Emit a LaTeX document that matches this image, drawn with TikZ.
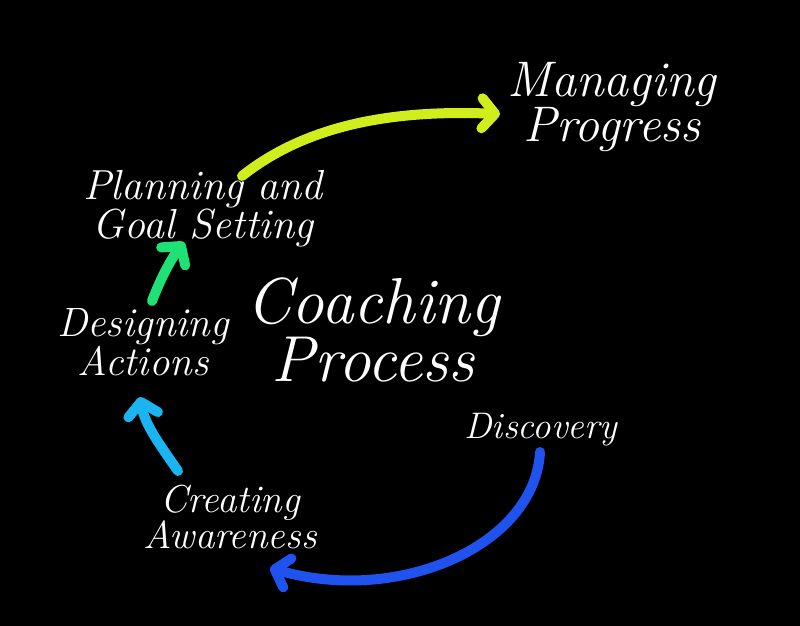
\documentclass[tikz,border=0pt]{standalone}
\usetikzlibrary{arrows.meta}
\definecolor{cyg}{RGB}{208,238,28}
\definecolor{cgr}{RGB}{30,226,118}
\definecolor{clb}{RGB}{26,180,240}
\definecolor{cbl}{RGB}{32,82,240}
\tikzset{
  lbl/.style={text=white,font=\itshape,align=center,inner sep=0pt},
  arr/.style={line width=10pt,line cap=round,-{Straight Barb[round,length=13pt,width=30pt,line width=10pt]}}
}
\begin{document}
\begin{tikzpicture}[x=1pt,y=-1pt]
\useasboundingbox[fill=black] (0,0) rectangle (800,626);
\node[lbl,font=\itshape\fontsize{50}{39}\selectfont] (mp) at (612,107) {Managing\\Progress};
\node[lbl,font=\itshape\fontsize{42}{34}\selectfont] (pg) at (203,209) {Planning and\\Goal Setting};
\node[lbl,font=\itshape\fontsize{65}{55}\selectfont] (cp) at (373,330) {Coaching\\Process};
\node[lbl,font=\itshape\fontsize{41}{31}\selectfont] (da) at (143,342) {Designing\\Actions};
\node[lbl,font=\itshape\fontsize{37}{34}\selectfont] (di) at (541,430) {Discovery};
\node[lbl,font=\itshape\fontsize{39}{33}\selectfont] (ca) at (230,517) {Creating\\Awareness};
\coordinate (a1s) at (242,176);
\coordinate (a1e) at (500,114);
\coordinate (a2s) at (152,301);
\coordinate (a2e) at (184,242);
\coordinate (a3s) at (178,471);
\coordinate (a3e) at (140,397);
\coordinate (a4s) at (540,452);
\coordinate (a4e) at (270,568);
\draw[arr,cyg] (a1s) .. controls (310,122) and (400,110) .. (a1e);
\draw[arr,cgr] (a2s) .. controls (162,275) and (172,258) .. (a2e);
\draw[arr,clb] (a3s) .. controls (160,445) and (145,425) .. (a3e);
\draw[arr,cbl] (a4s) .. controls (535,545) and (400,605) .. (a4e);
\end{tikzpicture}
\end{document}
